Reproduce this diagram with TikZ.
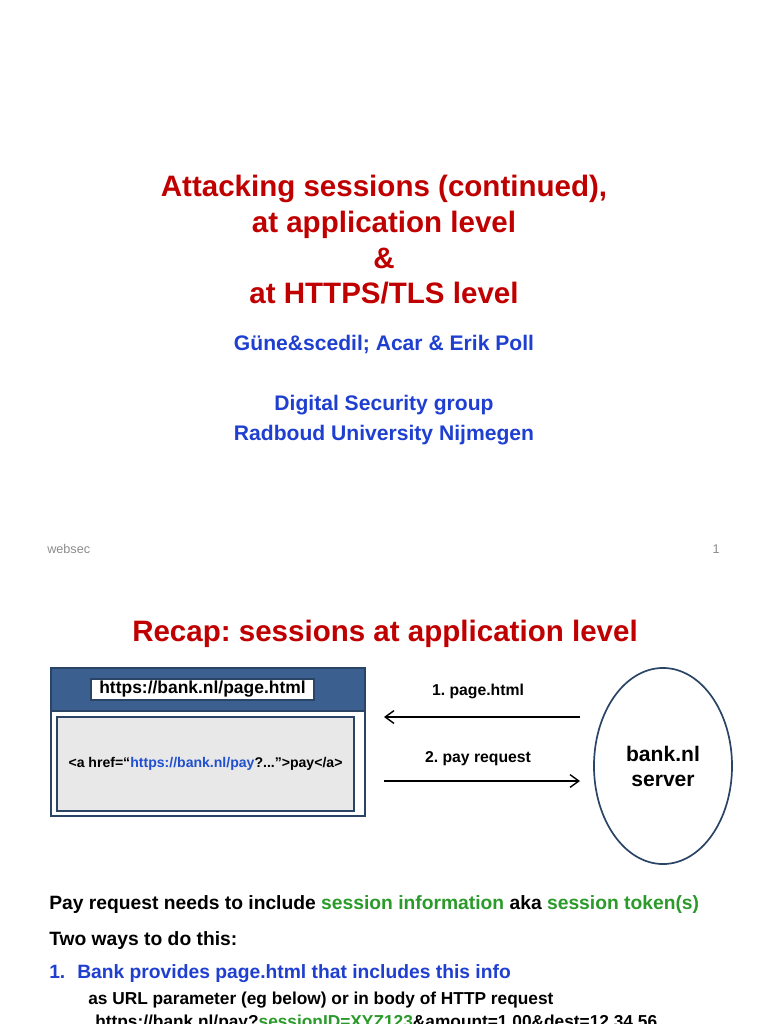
\documentclass[tikz,border=0pt]{standalone}
\usepackage{fontspec}
\setmainfont{Liberation Sans}
\usetikzlibrary{arrows.meta,shapes.geometric}
\definecolor{slidered}{HTML}{C00000}
\definecolor{slideblue}{HTML}{1F3FD0}
\definecolor{linkblue}{HTML}{2050D0}
\definecolor{tokengreen}{HTML}{2A9A2A}
\definecolor{barblue}{HTML}{3B5F8E}
\definecolor{frameblue}{HTML}{2A4466}
\definecolor{pagegray}{HTML}{E8E8E8}
\frenchspacing

\begin{document}
\begin{tikzpicture}[x=0.025cm, y=-0.025cm, >={Straight Barb[length=2.2mm, width=3.2mm]},
  headline/.style={font=\bfseries\fontsize{21}{25.4}\selectfont, text=slidered, align=center, inner sep=0pt},
  byline/.style={font=\bfseries\fontsize{15}{18}\selectfont, text=slideblue, inner sep=0pt, anchor=base},
  footer/.style={font=\fontsize{9}{11}\selectfont, text=black!45, inner sep=0pt, anchor=base},
  body/.style={font=\bfseries\fontsize{13.7}{16}\selectfont, inner sep=0pt, anchor=base west},
  small/.style={font=\bfseries\fontsize{12.3}{15}\selectfont, inner sep=0pt, anchor=base west},
  msglabel/.style={font=\bfseries\fontsize{11.2}{13}\selectfont, inner sep=0pt, anchor=base},
  msg/.style={->, line width=1pt},
  frame/.style={rectangle, draw=frameblue, line width=0.8pt, inner sep=0pt}
]
\useasboundingbox[fill=white] (0,0) rectangle (768,1024);

% title slide
\node[headline] (title) at (384,240) {Attacking sessions (continued),\\at application level\\\&\\at HTTPS/TLS level};
\node[byline] (authors) at (384,350) {Güne\&scedil; Acar \& Erik Poll};
\node[byline] (group) at (384,410) {Digital Security group};
\node[byline] (uni) at (384,440) {Radboud University Nijmegen};
\node[footer, anchor=base west] (course) at (47,553) {websec};
\node[footer, anchor=base east] (pageno) at (720,553) {1};

% recap slide
\node[headline, anchor=base] (recap) at (385,641) {Recap: sessions at application level};

\node[frame, fill=white, minimum width=7.85cm, minimum height=3.7cm] (browser) at (208,742) {};
\node[frame, fill=barblue, minimum width=7.85cm, minimum height=1.075cm] (bar) at (208,689.5) {};
\node[frame, fill=white, minimum width=5.575cm, minimum height=0.525cm,
  font=\bfseries\fontsize{12.4}{14}\selectfont] (url) at (202.5,689.5) {https://bank.nl/page.html};
\node[frame, fill=pagegray, line width=1.1pt, minimum width=7.425cm, minimum height=2.35cm,
  font=\bfseries\fontsize{10}{12}\selectfont] (page) at (205.5,764)
  {<a href=“\textcolor{linkblue}{https://bank.nl/pay}?...”>pay</a>};

\node[ellipse, draw=frameblue, line width=1.2pt, minimum width=3.45cm, minimum height=4.9cm, inner sep=0pt,
  font=\bfseries\fontsize{15}{17.8}\selectfont, align=center] (server) at (663,766) {bank.nl\\server};

\coordinate (srvout) at (580,717);
\coordinate (brwin) at (384,717);
\coordinate (brwout) at (384,781);
\coordinate (srvin) at (580,781);
\draw[msg] (srvout) -- (brwin);
\draw[msg] (brwout) -- (srvin);
\node[msglabel] (lbl1) at (478,695) {1. page.html};
\node[msglabel] (lbl2) at (478,762) {2. pay request};

\node[body] (need) at (49,909) {Pay request needs to include \textcolor{tokengreen}{session information} aka \textcolor{tokengreen}{session token(s)}};
\node[body] (ways) at (49,945) {Two ways to do this:};
\node[body, text=slideblue] (way1) at (49,978) {\makebox[19.9pt][l]{1.}Bank provides page.html that includes this info};
\node[small] (asurl) at (88,1004) {as URL parameter (eg below) or in body of HTTP request};
\node[small] (example) at (95,1027) {https://bank.nl/pay?\textcolor{tokengreen}{sessionID=XYZ123}\&amount=1.00\&dest=12.34.56};
\end{tikzpicture}
\end{document}
